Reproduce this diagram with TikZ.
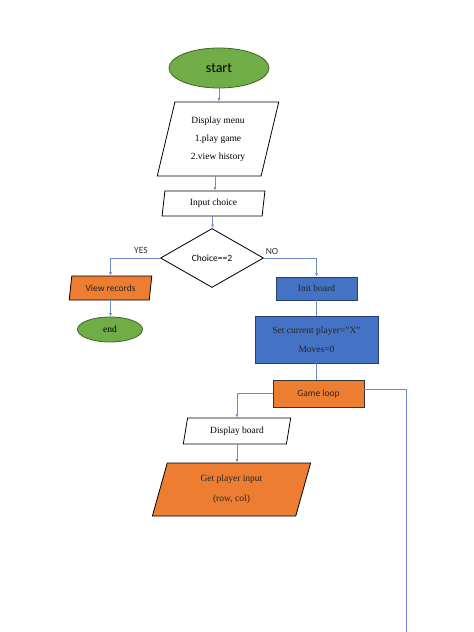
\documentclass[tikz,border=0pt]{standalone}
\usepackage{fontspec}
\setmainfont{Liberation Serif}
\newfontfamily\calib{Carlito}
\usepackage{tikz}
\usetikzlibrary{arrows.meta, positioning, calc, shapes.geometric}
\definecolor{mygreen}{RGB}{112, 173, 71}
\definecolor{mydkgreen}{RGB}{62, 100, 38}
\definecolor{myorange}{RGB}{237, 125, 49}
\definecolor{myblue}{RGB}{68, 114, 196}
\definecolor{mydkblue}{RGB}{38, 62, 110}
\definecolor{myline}{RGB}{110, 140, 205}

\begin{document}
\begin{tikzpicture}[x=1pt, y=-1pt,
    conn/.style={myline, line width=0.6pt},
    arr/.style={conn, -{Latex[length=3.5pt, width=3pt]}},
    para/.style={trapezium, trapezium stretches=true, draw, thick, inner sep=0pt, font=\fontsize{9.5}{11.5}\selectfont, align=center},
    oval/.style={ellipse, draw=mydkgreen, thick, fill=mygreen, inner sep=0pt},
    bluebox/.style={rectangle, draw=mydkblue, thick, fill=myblue, inner sep=0pt, font=\fontsize{9.5}{11.5}\selectfont, text=black!85, align=center},
    lbl/.style={font=\calib\fontsize{9.5}{11}\selectfont, text=black!80}]
    \useasboundingbox (0,0) rectangle (474,632);

    % Start
    \node[oval, minimum width=100pt, minimum height=40pt, font=\calib\fontsize{14}{16}\selectfont] (start) at (219, 68) {start};

    % Menu
    \node[para, trapezium left angle=76, trapezium right angle=104, minimum width=122pt, minimum height=74pt, font=\fontsize{9.5}{18}\selectfont] (menu) at (218, 139) {Display menu\\1.play game\\2.view history};
    \node[para, trapezium left angle=81, trapezium right angle=99, minimum width=103pt, minimum height=25pt] (input) at (213.5, 203.5) {Input choice};
    \node[diamond, draw, thick, minimum width=103pt, minimum height=59pt, inner sep=0pt, font=\calib\fontsize{9.5}{11}\selectfont] (choice) at (212, 258) {Choice==2};
    \draw[arr] (start.south) -- (start.south |- menu.north);
    \draw[arr] ([xshift=-3pt]menu.south) -- ([xshift=-3pt]menu.south |- input.north);
    \draw[arr] ([xshift=-1pt]input.south) -- ([xshift=-1pt]input.south |- choice.north);

    % YES
    \node[para, trapezium left angle=76, trapezium right angle=104, minimum width=83pt, minimum height=24pt, fill=myorange, font=\calib\fontsize{9.5}{11}\selectfont, text=black!85] (view) at (110.5, 288) {View records};
    \node[oval, minimum width=65pt, minimum height=25pt, font=\fontsize{9.5}{11}\selectfont] (end) at (110, 329.5) {end};
    \draw[arr] (choice.west) -| (view.north);
    \draw[arr] (view.south) -- (view.south |- end.north);
    \node[lbl] (yes) at (141, 250) {YES};

    % NO
    \node[bluebox, minimum width=81pt, minimum height=23pt] (init) at (316.5, 288.5) {Init board};
    \node[bluebox, minimum width=123pt, minimum height=47pt, font=\fontsize{9.5}{19}\selectfont] (setp) at (316.5, 339.5) {Set current player=”X”\\Moves=0};
    \node[rectangle, draw=black!80, thick, fill=myorange, inner sep=0pt, minimum width=91pt, minimum height=27pt, font=\calib\fontsize{9.5}{11}\selectfont, text=black!85] (loop) at (318.5, 393.5) {Game loop};
    \draw[arr] (choice.east) -| (init.north);
    \draw[conn] (init.south) -- (init.south |- setp.north);
    \draw[conn] (setp.south) -- (setp.south |- loop.north);
    \node[lbl] (no) at (272, 251) {NO};

    % Game loop
    \node[para, trapezium left angle=75, trapezium right angle=105, minimum width=108pt, minimum height=26pt] (dboard) at (237, 431) {Display board};
    \node[para, trapezium left angle=76, trapezium right angle=104, minimum width=159pt, minimum height=53pt, fill=myorange, text=black!85, font=\fontsize{9.5}{20}\selectfont] (getin) at (231.5, 489.5) {Get player input\\(row, col)};
    \coordinate (loopend) at (406, 632);
    \draw[arr] (loop.west) -| (dboard.north);
    \draw[arr] (dboard.south) -- (dboard.south |- getin.north);
    \draw[conn] ($(loop.east)+(0,-4)$) -| (loopend);
\end{tikzpicture}
\end{document}
